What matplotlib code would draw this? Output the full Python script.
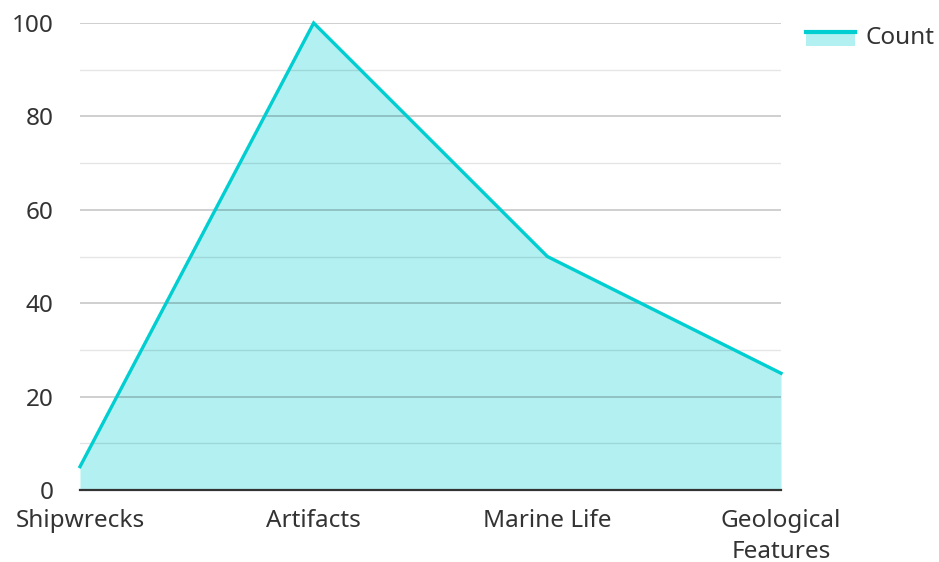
import matplotlib
matplotlib.use("Agg")
import matplotlib.pyplot as plt
from matplotlib.legend_handler import HandlerBase
from matplotlib.patches import Rectangle
from matplotlib.lines import Line2D

plt.rcParams['font.family'] = ['Noto Sans', 'DejaVu Sans']

categories = ["Shipwrecks", "Artifacts", "Marine Life", "Geological\nFeatures"]
counts = [5, 100, 50, 25]

line_col = "#00CED1"


class AreaHandler(HandlerBase):
    # filled box with the line along its top edge
    def create_artists(self, legend, orig, xd, yd, w, h, fontsize, trans):
        r = Rectangle((xd, yd - 0.1 * h), w, h * 0.85, facecolor=line_col,
                      alpha=0.3, edgecolor="none", transform=trans)
        l = Line2D([xd, xd + w], [yd + 0.72 * h, yd + 0.72 * h], color=line_col,
                   lw=3, transform=trans)
        return [r, l]


fig = plt.figure(figsize=(9.39, 5.62), dpi=100)
ax = fig.add_axes([80 / 939, 1 - 490 / 562, 701 / 939, 467 / 562])

x = list(range(len(categories)))
ax.fill_between(x, counts, 0, color=line_col, alpha=0.3, lw=0, zorder=1)
ax.plot(x, counts, color=line_col, lw=2.4, zorder=4, clip_on=False,
        solid_joinstyle="miter")

# grid sits over the fill, semi transparent
for v in range(10, 100, 20):
    ax.axhline(v, color="black", alpha=0.1, lw=1, zorder=2)
for v in range(20, 101, 20):
    ax.axhline(v, color="black", alpha=0.22, lw=1.2, zorder=2)
ax.axhline(0, color="#333333", lw=1.6, zorder=3, clip_on=False)

ax.set_xlim(0, 3)
ax.set_ylim(0, 100)
ax.set_yticks(range(0, 101, 20))
ax.set_xticks(x)
ax.set_xticklabels(categories, linespacing=1.4)
ax.tick_params(length=0, labelsize=17.5, colors="#333333", pad=13.5)
ax.tick_params(axis="y", pad=19)
for s in ax.spines.values():
    s.set_visible(False)

ax.legend([object()], ["Count"], handler_map={object: AreaHandler()},
          loc="upper left", bbox_to_anchor=(806 / 939, 1 - 26 / 562),
          bbox_transform=fig.transFigure, frameon=False, fontsize=17.5,
          handlelength=2.0, handletextpad=0.45, borderaxespad=0, borderpad=0,
          labelcolor="#333333")

fig.savefig("out.png", dpi=100)
